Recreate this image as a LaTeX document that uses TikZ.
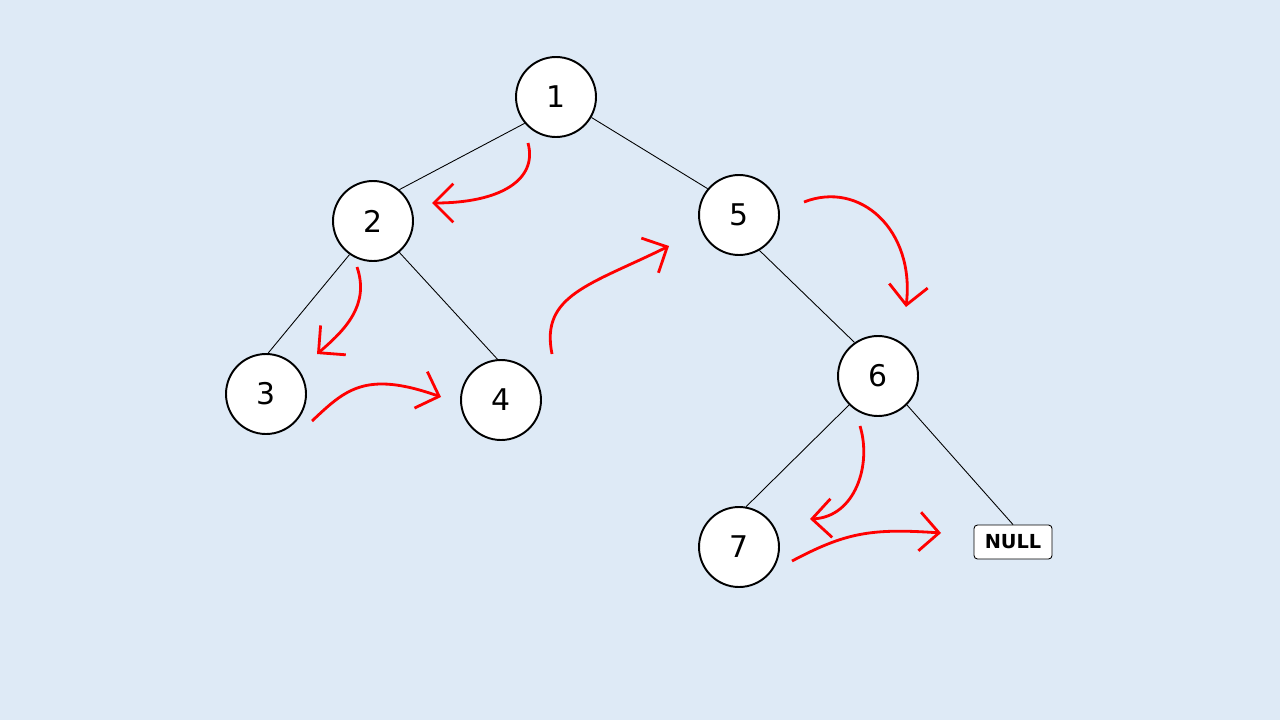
\documentclass[tikz,border=0pt]{standalone}
\usepackage{fontspec}
\setmainfont{DejaVu Sans}
\usetikzlibrary{arrows.meta}
\definecolor{bgblue}{HTML}{DEEAF6}
\begin{document}
\begin{tikzpicture}[x=0.02cm,y=-0.02cm]
\tikzstyle{vertex}=[circle,draw,line width=1.1pt,fill=white,minimum size=1.6cm,inner sep=0pt,font=\fontsize{17}{20}\selectfont]
\tikzstyle{nullbox}=[rectangle,rounded corners=2pt,draw,line width=0.5pt,fill=white,minimum width=1.56cm,minimum height=0.68cm,inner sep=0pt,font=\bfseries\fontsize{11}{13}\selectfont]
\tikzstyle{edge}=[line width=0.5pt]
\tikzstyle{walk}=[red,line width=1.6pt,-{Straight Barb[length=11pt,width=22pt,line width=1.6pt]}]
\fill[bgblue] (0,0) rectangle (1280,720);
\useasboundingbox (0,0) rectangle (1280,720);
\node[vertex](n1) at (556,97) {1};
\node[vertex](n2) at (373,221) {2};
\node[vertex](n5) at (739,215) {5};
\node[vertex](n3) at (266,394) {3};
\node[vertex](n4) at (501,400) {4};
\node[vertex](n6) at (878,376) {6};
\node[vertex](n7) at (739,547) {7};
\node[nullbox](null) at (1013,542) {NULL};
\draw[edge] (n1.-140) -- (n2.50);
\draw[edge] (n1.-30) -- (n5.140);
\draw[edge] (n2.-125) -- (n3.87);
\draw[edge] (n2.-50) -- (n4.95);
\draw[edge] (n5.-60) -- (n6.125);
\draw[edge] (n6.-135) -- (n7.80);
\draw[edge] (n6.-45) -- (null.north);
% traversal
\coordinate (w1a) at (528,143); \coordinate (w1b) at (432,203);
\coordinate (w2a) at (357,267); \coordinate (w2b) at (317,354);
\coordinate (w3a) at (312,421); \coordinate (w3b) at (441,397);
\coordinate (w4a) at (552,354); \coordinate (w4b) at (669,246);
\coordinate (w5a) at (804,202); \coordinate (w5b) at (906,307);
\coordinate (w6a) at (860,426); \coordinate (w6b) at (810,519);
\coordinate (w7a) at (792,561); \coordinate (w7b) at (941,533);
\draw[walk] (w1a) .. controls (538,180) and (500,203) .. (w1b);
\draw[walk] (w2a) .. controls (370,305) and (345,330) .. (w2b);
\draw[walk] (w3a) .. controls (345,390) and (365,370) .. (w3b);
\draw[walk] (w4a) .. controls (540,295) and (590,285) .. (w4b);
\draw[walk] (w5a) .. controls (860,180) and (915,230) .. (w5b);
\draw[walk] (w6a) .. controls (872,465) and (855,517) .. (w6b);
\draw[walk] (w7a) .. controls (845,533) and (870,528) .. (w7b);
\end{tikzpicture}
\end{document}
